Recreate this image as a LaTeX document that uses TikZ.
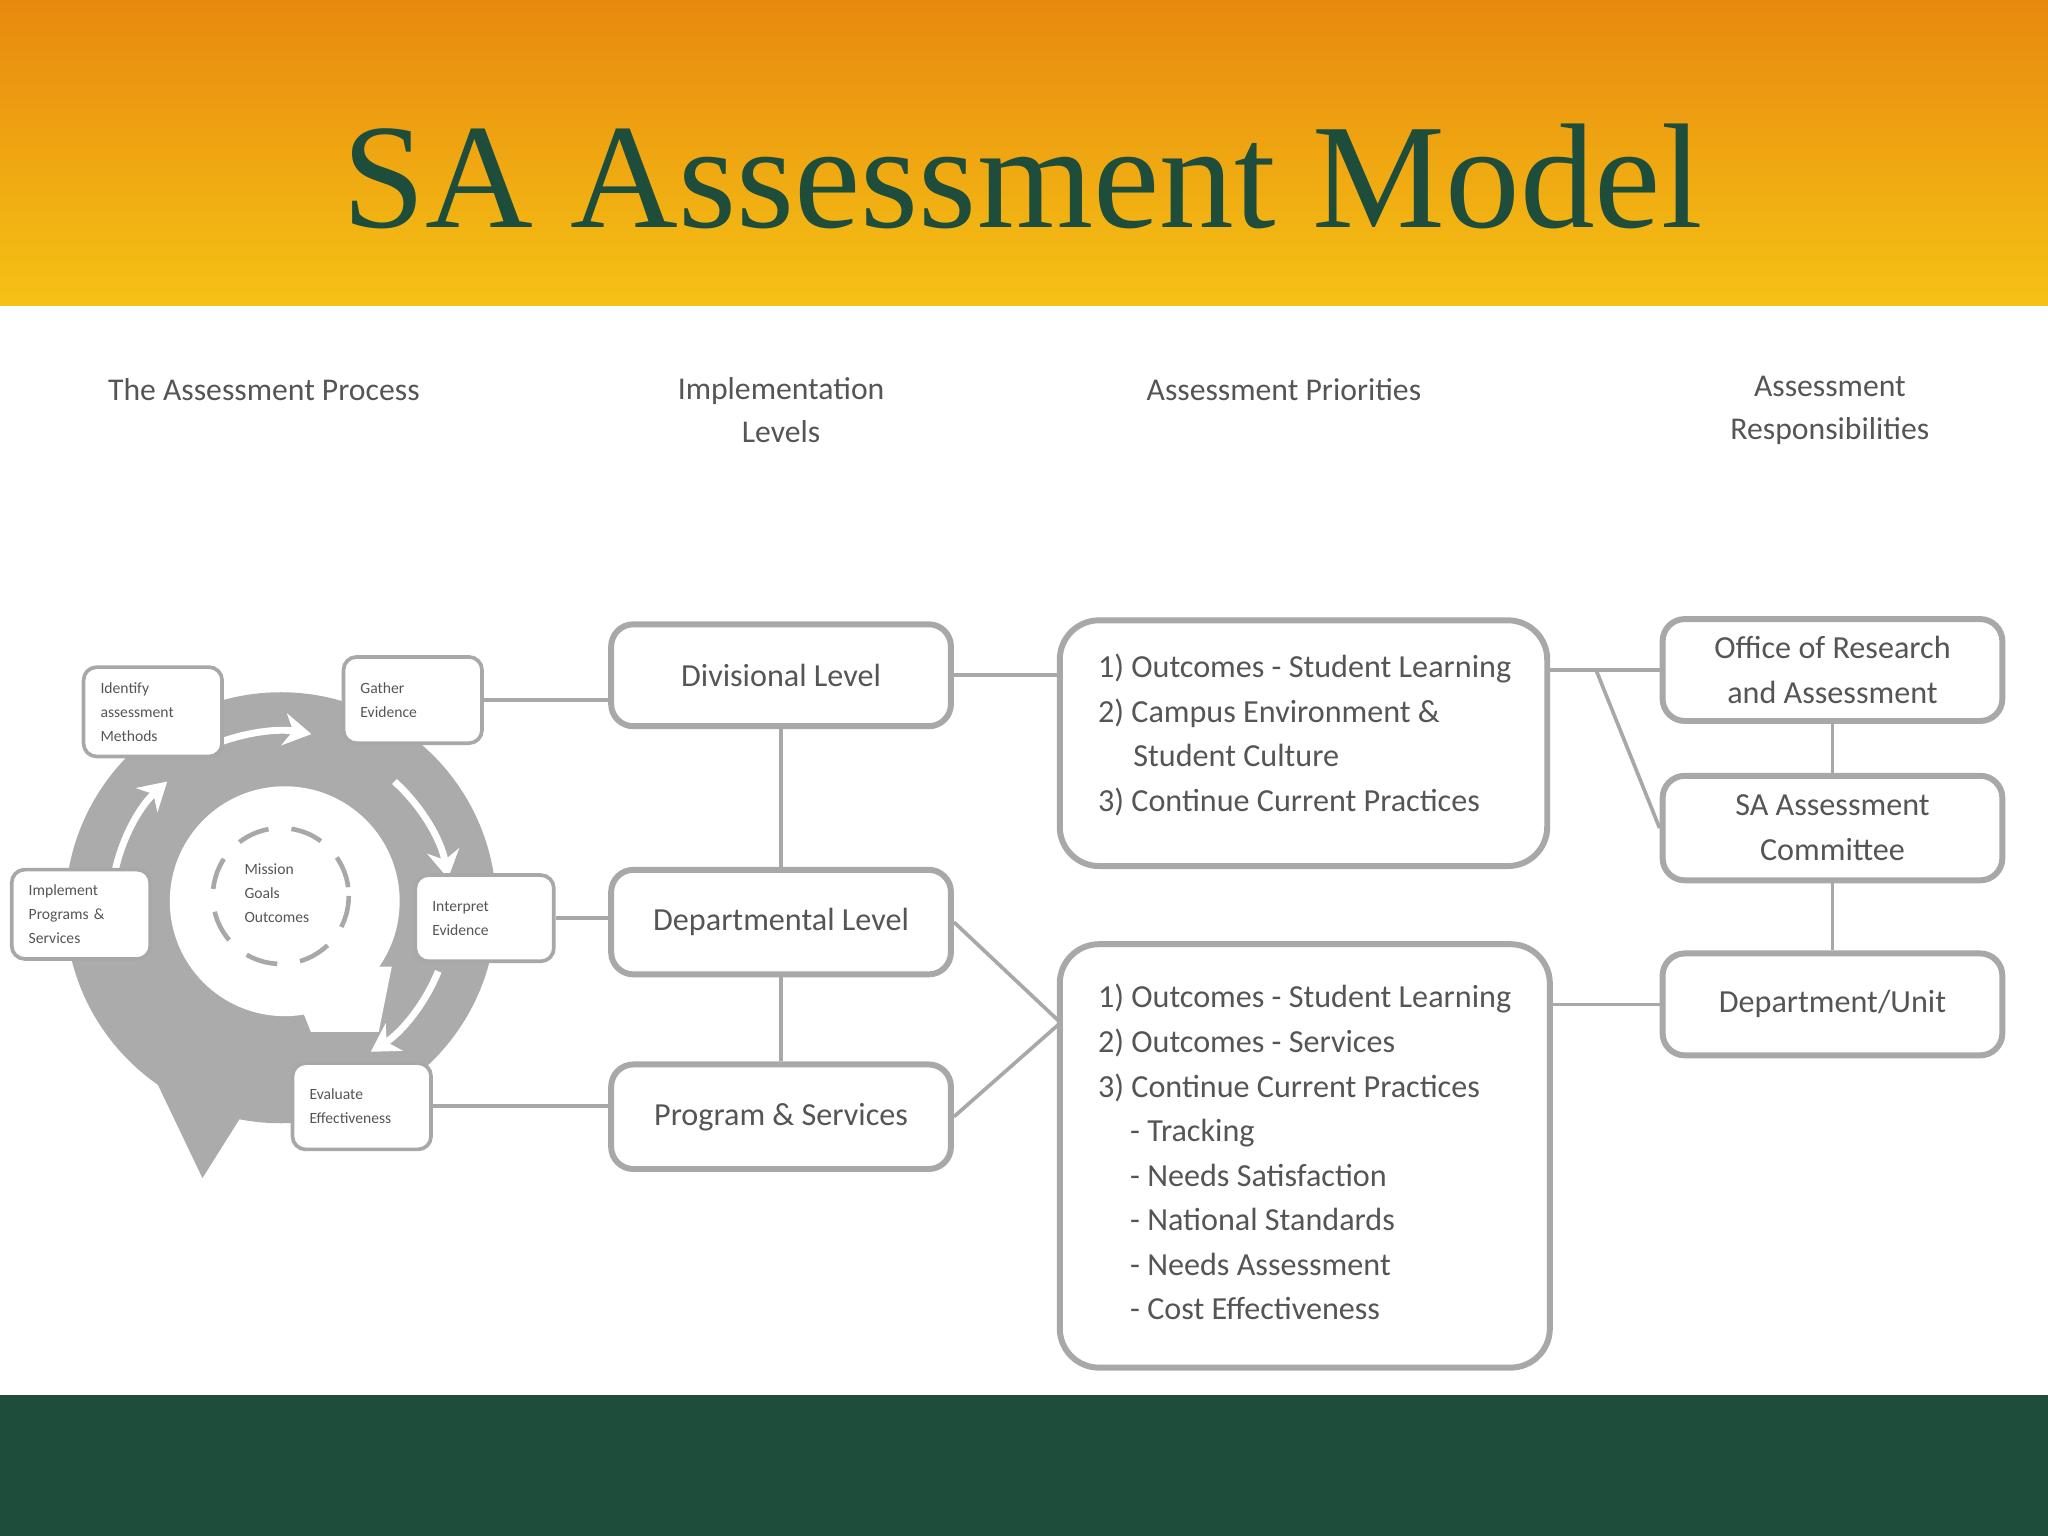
\documentclass[tikz,border=0pt]{standalone}
\usepackage{fontspec}
\setmainfont{Carlito}
\newfontfamily\titlefont{Liberation Serif}
\usetikzlibrary{arrows.meta}
\definecolor{org}{HTML}{E8890F}
\definecolor{yel}{HTML}{F5C214}
\definecolor{dgreen}{HTML}{1E4D3C}
\definecolor{bord}{HTML}{A8A8A8}
\definecolor{txt}{HTML}{555555}
\definecolor{ring}{HTML}{ABABAB}
\tikzset{
  bigbox/.style={draw=bord,line width=1.3pt,rounded corners=0.17cm,fill=white,font=\fontsize{7}{9.8}\selectfont,text=txt,align=center},
  smallbox/.style={draw=bord,line width=0.8pt,rounded corners=0.1cm,fill=white,font=\fontsize{3.4}{5.2}\selectfont,text=txt,align=left,minimum width=1.06cm,minimum height=0.66cm,text width=0.8cm},
  conn/.style={draw=bord,line width=0.8pt},
  hdr/.style={font=\fontsize{6.9}{9.4}\selectfont,text=txt,align=center},
  plist/.style={font=\fontsize{7}{9.7}\selectfont,text=txt,align=left,anchor=north west,inner sep=0pt},
  warr/.style={white,line width=1.5pt,-{Stealth[length=6pt,width=7pt]}}
}
\begin{document}
\begin{tikzpicture}[x=0.01cm,y=-0.01cm]
\useasboundingbox (0,0) rectangle (1568,1176);
\shade[top color=org,bottom color=yel] (0,0) rectangle (1568,234);
\fill[dgreen] (0,1068) rectangle (1568,1176);
\node[font=\titlefont\fontsize{32.5}{36}\selectfont,text=dgreen] (title) at (783,135) {SA Assessment Model};

% headers
\node[hdr] (h1) at (202,298) {The Assessment Process};
\node[hdr] (h2) at (598,314) {Implementation\\Levels};
\node[hdr] (h3) at (983,298) {Assessment Priorities};
\node[hdr] (h4) at (1401,314) {Assessment\\Responsibilities};

% cycle
\fill[ring] (215,695) circle (165);
\fill[ring] (92,770) -- (238,770) -- (155,902) -- cycle;
\fill[white] (218,690) circle (88);
\fill[white] (218,740) -- (300,740) -- (290,790) -- (238,790) -- cycle;
\draw[bord,line width=1pt,dash pattern=on 7pt off 5pt] (215,686) circle (52);
\node[font=\fontsize{3.4}{5.2}\selectfont,text=txt,align=left] (mgo) at (212,684) {Mission\\Goals\\Outcomes};
\draw[warr] (215,695) ++(-112:135) arc (-112:-80:135);
\draw[warr] (215,695) ++(-48:130) arc (-48:-10:130);
\draw[warr] (215,695) ++(22:130) arc (22:58:130);
\draw[warr] (215,695) ++(-170:130) arc (-170:-132:130);

\node[smallbox] (idm) at (117,545) {Identify\\assessment\\Methods};
\node[smallbox] (gev) at (316,536) {Gather\\Evidence};
\node[smallbox] (iev) at (371,703) {Interpret\\Evidence};
\node[smallbox] (eef) at (277,847) {Evaluate\\Effectiveness};
\node[smallbox] (ips) at (62,700) {Implement\\Programs \&\\Services};

% levels
\node[bigbox,minimum width=2.6cm,minimum height=0.78cm] (div) at (598,517) {Divisional Level};
\node[bigbox,minimum width=2.6cm,minimum height=0.8cm] (dep) at (598,706) {Departmental Level};
\node[bigbox,minimum width=2.6cm,minimum height=0.8cm] (prog) at (598,855) {Program \& Services};

% priorities
\node[bigbox,minimum width=3.73cm,minimum height=1.88cm,rounded corners=0.3cm] (pr1) at (998,569) {};
\node[plist] (pr1t) at (840,500) {1) Outcomes - Student Learning\\2) Campus Environment \&\\\hspace*{1.1em}Student Culture\\3) Continue Current Practices};
\node[bigbox,minimum width=3.75cm,minimum height=3.24cm,rounded corners=0.3cm] (pr2) at (999,885) {};
\node[plist] (pr2t) at (840,753) {1) Outcomes - Student Learning\\2) Outcomes - Services\\3) Continue Current Practices\\\hspace*{1em}- Tracking\\\hspace*{1em}- Needs Satisfaction\\\hspace*{1em}- National Standards\\\hspace*{1em}- Needs Assessment\\\hspace*{1em}- Cost Effectiveness};

% responsibilities
\node[bigbox,minimum width=2.6cm,minimum height=0.78cm] (ora) at (1403,513) {Office of Research\\and Assessment};
\node[bigbox,minimum width=2.6cm,minimum height=0.8cm] (sac) at (1403,634) {SA Assessment\\Committee};
\node[bigbox,minimum width=2.6cm,minimum height=0.78cm] (du) at (1403,769) {Department/Unit};

\coordinate (m2) at (812,783);
\coordinate (br) at (1222,513);

% connectors
\draw[conn] (gev.east) -- (div.west |- gev.east);
\draw[conn] (iev.east) -- (dep.west |- iev.east);
\draw[conn] (eef.east) -- (prog.west |- eef.east);
\draw[conn] (div.south) -- (dep.north);
\draw[conn] (dep.south) -- (prog.north);
\draw[conn] (div.east) -- (pr1.west |- div.east);
\draw[conn] (dep.east) -- (m2);
\draw[conn] (prog.east) -- (m2);
\draw[conn] (pr1.east |- ora.west) -- (ora.west);
\draw[conn] (br) -- (sac.west);
\draw[conn] (ora.south) -- (sac.north);
\draw[conn] (sac.south) -- (du.north);
\draw[conn] (pr2.east |- du.west) -- (du.west);
\end{tikzpicture}
\end{document}
